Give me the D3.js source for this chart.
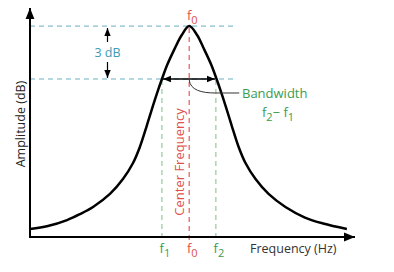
<!DOCTYPE html>
<html>
<head>
<meta charset="utf-8">
<script src="https://cdn.jsdelivr.net/npm/d3@7"></script>
<style>
  body { margin: 0; background: #fff; }
  text { font-family: "Open Sans", "Noto Sans", sans-serif; }
</style>
</head>
<body>
<div id="wrapper"></div>
<script>
// response curve (frequency units 0..100, amplitude units 0..100)
const freq = [0, 5.5, 11.4, 15.4, 19.4, 24.6, 28.6, 31.7, 33.8, 36.0, 37.8, 39.2, 40.6, 42.2, 44.6, 46.7,
              49.0,
              51.4, 53.4, 55.8, 57.4, 58.8, 60.2, 62.0, 64.2, 66.3, 69.4, 73.4, 78.6, 84.6, 90.2, 97.5];
const amp  = [3.5, 4.8, 7.4, 10.0, 13.1, 18.8, 25.3, 32.3, 39.3, 48.9, 57.2, 63.3, 69.0, 75.1, 82.5, 88.2,
              92.1,
              88.2, 82.5, 75.1, 69.0, 63.3, 57.2, 48.9, 39.3, 32.3, 25.3, 18.8, 13.1, 8.5, 5.9, 3.5];

// marker frequencies
const markerNames = ["f1", "f0", "f2"];
const markerFreq = [40.6, 49.0, 57.2];
const markerSub = ["1", "0", "2"];

const peakLevel = 92.1;
const halfLevel = 69.0;
const guideEnd = 63.7;

const dimension = {
    width: 394,
    height: 272,
    margin: { top: 8, left: 30, bottom: 35, right: 39 }
};
dimension.boundedWidth = dimension.width - dimension.margin.left - dimension.margin.right;
dimension.boundedHeight = dimension.height - dimension.margin.top - dimension.margin.bottom;

const teal = "#3b9bb5", tealDash = "#6aafc2";
const red = "#e0504b", redDash = "#ec7b78";
const green = "#3a9c4e", greenDash = "#7cbf89";

const svg = d3.select("#wrapper")
    .append("svg")
    .attr("width", dimension.width)
    .attr("height", dimension.height);

const defs = svg.append("defs");
function arrowMarker(id, size) {
    defs.append("marker")
        .attr("id", id)
        .attr("viewBox", "0 0 10 10")
        .attr("refX", 10).attr("refY", 5)
        .attr("markerWidth", size).attr("markerHeight", size)
        .attr("markerUnits", "userSpaceOnUse")
        .attr("orient", "auto-start-reverse")
        .append("path")
        .attr("d", "M0,1 L10,5 L0,9 Z")
        .attr("fill", "#000");
}
arrowMarker("axisArrow", 11);
arrowMarker("smallArrow", 8);

const xScaler = d3.scaleLinear().domain([0, 100]).range([30, 355]);
const yScaler = d3.scaleLinear().domain([0, 100]).range([237, 8]);

const points = freq.map((f, i) => [f, amp[i]]);

// horizontal guides (peak and -3 dB)
[peakLevel, halfLevel].forEach(level => {
    svg.append("line")
        .attr("x1", xScaler(0)).attr("x2", xScaler(guideEnd))
        .attr("y1", yScaler(level)).attr("y2", yScaler(level))
        .attr("stroke", tealDash).attr("stroke-width", 1)
        .attr("stroke-dasharray", "5 4");
});

// vertical guides f1, f2 (green) and f0 (red)
markerFreq.forEach((f, i) => {
    const isCenter = markerNames[i] === "f0";
    svg.append("line")
        .attr("x1", xScaler(f)).attr("x2", xScaler(f))
        .attr("y1", yScaler(isCenter ? peakLevel : halfLevel) + (isCenter ? 2 : 1))
        .attr("y2", yScaler(0) + 4)
        .attr("stroke", isCenter ? redDash : greenDash)
        .attr("stroke-width", isCenter ? 1.5 : 1)
        .attr("stroke-dasharray", "5 4");
});

// axes
svg.append("line")
    .attr("x1", xScaler(0)).attr("x2", xScaler(0))
    .attr("y1", yScaler(0) + 1).attr("y2", yScaler(100))
    .attr("stroke", "#000").attr("stroke-width", 2)
    .attr("marker-end", "url(#axisArrow)");
svg.append("line")
    .attr("x1", xScaler(0) - 1).attr("x2", xScaler(100))
    .attr("y1", yScaler(0)).attr("y2", yScaler(0))
    .attr("stroke", "#000").attr("stroke-width", 2)
    .attr("marker-end", "url(#axisArrow)");

// response curve
const lineGen = d3.line()
    .x(d => xScaler(d[0]))
    .y(d => yScaler(d[1]))
    .curve(d3.curveCatmullRom.alpha(0.5));
svg.append("path")
    .datum(points)
    .attr("d", lineGen)
    .attr("fill", "none")
    .attr("stroke", "#000")
    .attr("stroke-width", 2.5);

// bandwidth double arrow
svg.append("line")
    .attr("x1", xScaler(markerFreq[0]) + 1).attr("x2", xScaler(markerFreq[2]) - 1)
    .attr("y1", yScaler(halfLevel)).attr("y2", yScaler(halfLevel))
    .attr("stroke", "#000").attr("stroke-width", 1.5)
    .attr("marker-start", "url(#smallArrow)")
    .attr("marker-end", "url(#smallArrow)");

// leader to "Bandwidth"
const lx = xScaler(markerFreq[1]), ly = yScaler(halfLevel);
svg.append("path")
    .attr("d", `M${lx},${ly + 1} C${lx + 1},${ly + 11} ${lx + 12},${ly + 14} ${lx + 26},${ly + 14} L${lx + 50},${ly + 14}`)
    .attr("fill", "none")
    .attr("stroke", "#333")
    .attr("stroke-width", 1);

// 3 dB arrows
const dbX = 107.5;
svg.append("line")
    .attr("x1", dbX).attr("x2", dbX)
    .attr("y1", 42).attr("y2", yScaler(peakLevel) + 2)
    .attr("stroke", "#000").attr("stroke-width", 1.2)
    .attr("marker-end", "url(#smallArrow)");
svg.append("line")
    .attr("x1", dbX).attr("x2", dbX)
    .attr("y1", 62).attr("y2", yScaler(halfLevel) - 1)
    .attr("stroke", "#000").attr("stroke-width", 1.2)
    .attr("marker-end", "url(#smallArrow)");
svg.append("text")
    .attr("x", dbX).attr("y", 57)
    .attr("text-anchor", "middle")
    .attr("font-size", "12.5px")
    .attr("fill", teal)
    .text("3 dB");

// subscripted f labels
function fLabel(x, y, sub, color, size) {
    const t = svg.append("text")
        .attr("x", x).attr("y", y)
        .attr("text-anchor", "middle")
        .attr("font-size", size + "px")
        .attr("fill", color);
    t.append("tspan").text("f");
    t.append("tspan").attr("dy", 4).attr("font-size", (size - 2) + "px").text(sub);
    return t;
}
fLabel(xScaler(markerFreq[1]) + 3, 20, "0", red, 13);
markerFreq.forEach((f, i) => {
    fLabel(xScaler(f) + 3, 253, markerSub[i], markerNames[i] === "f0" ? red : green, 13);
});

// bandwidth labels
svg.append("text")
    .attr("x", 242).attr("y", 98)
    .attr("font-size", "13px")
    .attr("fill", green)
    .text("Bandwidth");
const bw = svg.append("text")
    .attr("x", 278).attr("y", 117)
    .attr("text-anchor", "middle")
    .attr("font-size", "13px")
    .attr("fill", green);
bw.append("tspan").text("f");
bw.append("tspan").attr("dy", 4).attr("font-size", "11px").text("2");
bw.append("tspan").attr("dy", -4).text("\u2212 f");
bw.append("tspan").attr("dy", 4).attr("font-size", "11px").text("1");

// axis titles
svg.append("text")
    .attr("x", 250).attr("y", 253)
    .attr("font-size", "12.5px")
    .attr("fill", "#333")
    .text("Frequency (Hz)");
svg.append("text")
    .attr("transform", "translate(25,124) rotate(-90)")
    .attr("text-anchor", "middle")
    .attr("font-size", "12.5px")
    .attr("fill", "#222")
    .text("Amplitude (dB)");
svg.append("text")
    .attr("transform", `translate(${xScaler(markerFreq[1]) - 5},162) rotate(-90)`)
    .attr("text-anchor", "middle")
    .attr("font-size", "13px")
    .attr("fill", red)
    .text("Center Frequency");
</script>
</body>
</html>
